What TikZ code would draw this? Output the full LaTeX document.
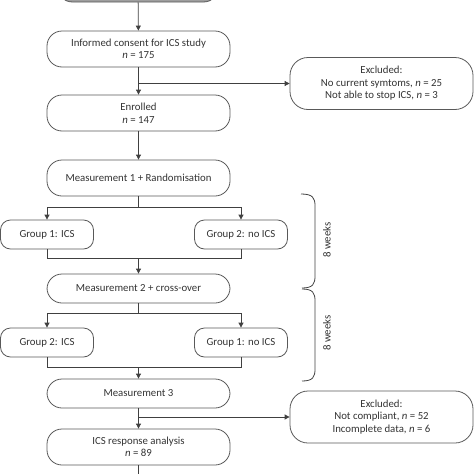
\documentclass[tikz,border=0pt]{standalone}
\usepackage{fontspec}
\setmainfont{Carlito}
\usetikzlibrary{arrows.meta}
\usetikzlibrary{calc}
\tikzset{
    box/.style={draw=black!65, line width=0.8pt, rounded corners=15pt, minimum width=183pt, minimum height=36pt, align=center, text=black!80, inner sep=2pt, font=\fontsize{10.8}{12.5}\selectfont},
    grp/.style={box, rounded corners=10pt, minimum width=93pt, minimum height=29pt},
    excl/.style={box, rounded corners=18pt, minimum height=52pt},
    link/.style={draw=black!75, line width=0.8pt},
}
\newcommand{\drawarrow}{\draw[link, -{Triangle[length=5pt, width=5pt]}]}

\begin{document}
\begin{tikzpicture}[x=1pt, y=-1pt]
    \useasboundingbox (0,0) rectangle (474,474);
    \clip (0,0) rectangle (474,474);

    % Draw boxes
    \node[box, fill=black!38, minimum width=161pt] (screen) at (138,-16) {};
    \node[box] (consent) at (138.5,49) {Informed consent for ICS study\\\textit{n} = 175};
    \node[box] (enrolled) at (138.5,113) {Enrolled\\\textit{n} = 147};
    \node[box] (meas1) at (138.5,178) {Measurement 1 + Randomisation};
    \node[grp] (g1ics) at (47,234.5) {Group 1: ICS};
    \node[grp] (g2no) at (241,234.5) {Group 2: no ICS};
    \node[box, minimum height=29pt] (meas2) at (138.5,288.5) {Measurement 2 + cross-over};
    \node[grp] (g2ics) at (47,342.5) {Group 2: ICS};
    \node[grp] (g1no) at (241,342.5) {Group 1: no ICS};
    \node[box, minimum height=29pt] (meas3) at (138.5,393.5) {Measurement 3};
    \node[box] (analysis) at (138.5,447) {ICS response analysis\\\textit{n} = 89};
    \node[excl] (excl1) at (381.5,83.5) {Excluded:\\No current symtoms, \textit{n} = 25\\Not able to stop ICS, \textit{n} = 3};
    \node[excl] (excl2) at (381.5,417) {Excluded:\\Not compliant, \textit{n} = 52\\Incomplete data, \textit{n} = 6};

    % Draw flow
    \coordinate (split1) at (consent.south |- excl1.west);
    \coordinate (fork1) at ($(meas1.south)+(0,11)$);
    \coordinate (join1) at ($(meas2.north)+(0,-15)$);
    \coordinate (fork2) at ($(meas2.south)+(0,10)$);
    \coordinate (join2) at ($(meas3.north)+(0,-11)$);
    \coordinate (split2) at (meas3.south |- excl2.west);
    \coordinate (out) at ($(analysis.south)+(0,14)$);

    \drawarrow (screen) -- (consent);
    \drawarrow (consent) -- (enrolled);
    \drawarrow (split1) -- (excl1);
    \drawarrow (enrolled) -- (meas1);
    \draw[link] (meas1) -- (fork1);
    \drawarrow (fork1) -| (g1ics);
    \drawarrow (fork1) -| (g2no);
    \draw[link] (g1ics) |- (join1) -| (g2no);
    \drawarrow (join1) -- (meas2);
    \draw[link] (meas2) -- (fork2);
    \drawarrow (fork2) -| (g2ics);
    \drawarrow (fork2) -| (g1no);
    \draw[link] (g2ics) |- (join2) -| (g1no);
    \drawarrow (join2) -- (meas3);
    \drawarrow (meas3) -- (analysis);
    \drawarrow (split2) -- (excl2);
    \draw[link] (analysis) -- (out);

    % Draw braces
    \draw[link] (301,194) .. controls (313,194) and (315,198) .. (315,206) -- (315,276) .. controls (315,284) and (313,288) .. (302,288);
    \draw[link] (302,289) .. controls (313,289) and (315,293) .. (315,301) -- (315,369) .. controls (315,377) and (313,381) .. (302,381);
    \node[rotate=90, text=black!80, font=\fontsize{10.8}{12.5}\selectfont] (weeks1) at (327,240) {8 weeks};
    \node[rotate=90, text=black!80, font=\fontsize{10.8}{12.5}\selectfont] (weeks2) at (327,333) {8 weeks};
\end{tikzpicture}
\end{document}
